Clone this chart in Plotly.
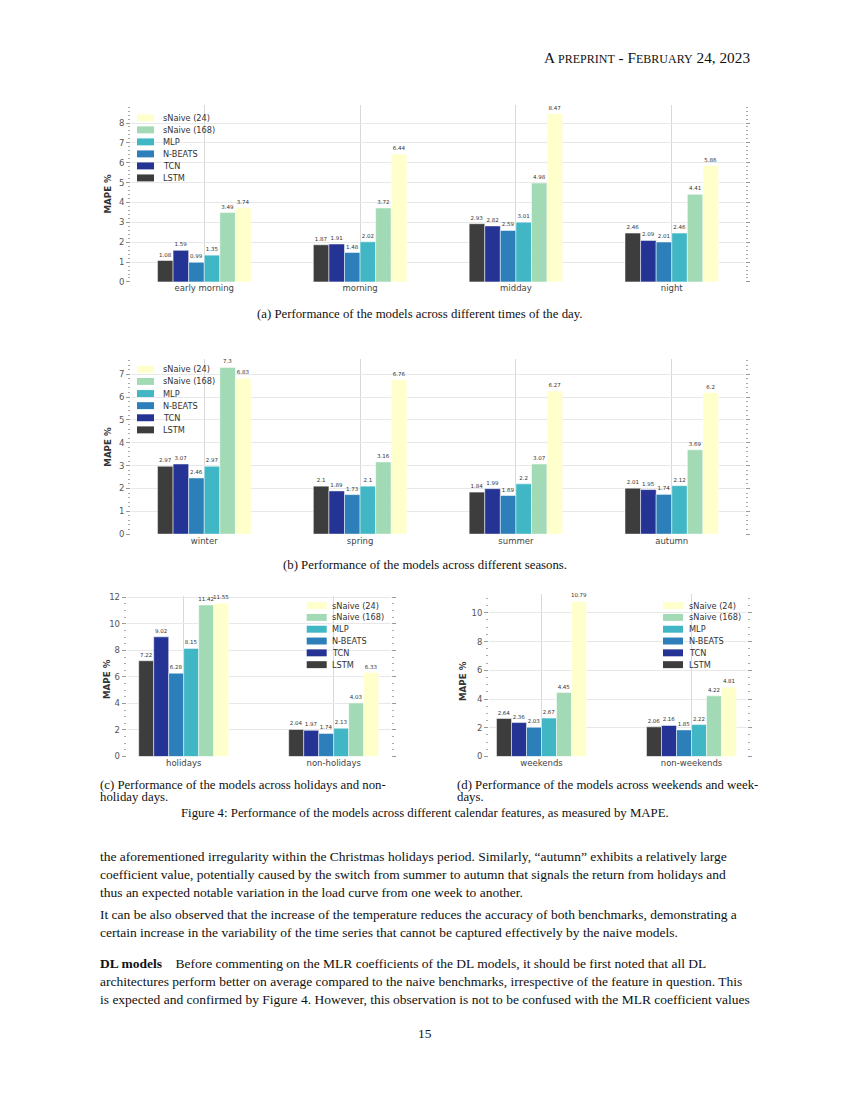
import plotly.graph_objects as go

W, H = 850, 1100

# ---------------- data ----------------
models = ["LSTM", "TCN", "N-BEATS", "MLP", "sNaive (168)", "sNaive (24)"]
colors = ["#3d3d3d", "#253494", "#2c7fb8", "#41b6c4", "#a1dab4", "#ffffcc"]

tod_cats = ["early morning", "morning", "midday", "night"]
tod_lstm = [1.08, 1.87, 2.93, 2.46]
tod_tcn = [1.59, 1.91, 2.82, 2.09]
tod_nbeats = [0.99, 1.48, 2.59, 2.01]
tod_mlp = [1.35, 2.02, 3.01, 2.46]
tod_sn168 = [3.49, 3.72, 4.98, 4.41]
tod_sn24 = [3.74, 6.44, 8.47, 5.86]

season_cats = ["winter", "spring", "summer", "autumn"]
season_lstm = [2.97, 2.1, 1.84, 2.01]
season_tcn = [3.07, 1.89, 1.99, 1.95]
season_nbeats = [2.46, 1.73, 1.69, 1.74]
season_mlp = [2.97, 2.1, 2.2, 2.12]
season_sn168 = [7.3, 3.16, 3.07, 3.69]
season_sn24 = [6.83, 6.76, 6.27, 6.2]

hol_cats = ["holidays", "non-holidays"]
hol_lstm = [7.22, 2.04]
hol_tcn = [9.02, 1.97]
hol_nbeats = [6.28, 1.74]
hol_mlp = [8.15, 2.13]
hol_sn168 = [11.42, 4.03]
hol_sn24 = [11.55, 6.33]

wk_cats = ["weekends", "non-weekends"]
wk_lstm = [2.64, 2.06]
wk_tcn = [2.36, 2.16]
wk_nbeats = [2.03, 1.85]
wk_mlp = [2.67, 2.22]
wk_sn168 = [4.45, 4.22]
wk_sn24 = [10.79, 4.81]

# ---------------- layout helpers ----------------
def px_x(v):
    return v / W


def px_y(v):
    return 1 - v / H


CHART_FONT = "DejaVu Sans"
TEXT_FONT = "Liberation Serif"

panels = [
    dict(cats=tod_cats, series=[tod_lstm, tod_tcn, tod_nbeats, tod_mlp, tod_sn168, tod_sn24],
         xpx=(131, 745), ypx=(103, 281), xr=(-0.47, 3.47), dtick=1, minor=0.2,
         leg=dict(sx=137, sw=17, tx=161, cy=115.7, step=12.1), ylab=(108, 192)),
    dict(cats=season_cats, series=[season_lstm, season_tcn, season_nbeats, season_mlp, season_sn168, season_sn24],
         xpx=(131, 745), ypx=(358.7, 535), xr=(-0.47, 3.47), dtick=1, minor=0.2,
         leg=dict(sx=137, sw=17, tx=161, cy=369, step=12.2), ylab=(108, 447)),
    dict(cats=hol_cats, series=[hol_lstm, hol_tcn, hol_nbeats, hol_mlp, hol_sn168, hol_sn24],
         xpx=(126.7, 390.7), ypx=(597, 759), xr=(-0.38, 1.38), dtick=2, minor=0.5,
         leg=dict(sx=306.7, sw=20, tx=330, cy=607, step=11.9), ylab=(107, 681)),
    dict(cats=wk_cats, series=[wk_lstm, wk_tcn, wk_nbeats, wk_mlp, wk_sn168, wk_sn24],
         xpx=(489, 747), ypx=(595, 759), xr=(-0.35, 1.37), dtick=2, minor=0.5,
         leg=dict(sx=663, sw=20, tx=687, cy=607, step=11.9), ylab=(463, 683)),
]

fig = go.Figure()
shapes = []
annotations = []
layout_axes = {}

for i, p in enumerate(panels):
    n = i + 1
    xa = "x" if n == 1 else f"x{n}"
    ya = "y" if n == 1 else f"y{n}"
    for name, vals, col in zip(models, p["series"], colors):
        fig.add_trace(go.Bar(
            x=p["cats"], y=vals, name=name, marker_color=col,
            marker_line=dict(color="white", width=0.5),
            texttemplate="%{y}", textposition="outside",
            textfont=dict(size=5.5, color="#333", family=CHART_FONT),
            constraintext="none", cliponaxis=False,
            xaxis=xa, yaxis=ya, showlegend=False,
        ))
    ymax = max(max(s) for s in p["series"]) * 1.05
    xkey = "xaxis" if n == 1 else f"xaxis{n}"
    ykey = "yaxis" if n == 1 else f"yaxis{n}"
    layout_axes[xkey] = dict(
        domain=[px_x(p["xpx"][0]), px_x(p["xpx"][1])], anchor=ya,
        type="category", range=list(p["xr"]), showgrid=True, gridcolor="#d9d9d9",
        gridwidth=1, ticks="", showline=False, zeroline=False,
        tickfont=dict(size=8.5, color="#444", family=CHART_FONT),
    )
    layout_axes[ykey] = dict(
        domain=[px_y(p["ypx"][1]), px_y(p["ypx"][0])], anchor=xa,
        range=[0, ymax], dtick=p["dtick"], tick0=0, showgrid=True,
        gridcolor="#e8e8e8", gridwidth=1, zeroline=False, showline=False,
        ticks="outside", ticklen=4, tickcolor="#999", mirror="ticks",
        minor=dict(ticks="outside", ticklen=2, tickcolor="#aaa", dtick=p["minor"],
                   tick0=0, showgrid=False),
        tickfont=dict(size=8.5, color="#555", family=CHART_FONT),
    )
    # top tick marks (overlay axis)
    tkey = f"xaxis{n + 4}"
    layout_axes[tkey] = dict(
        overlaying=xa, anchor=ya, side="top", type="linear",
        range=list(p["xr"]), dtick=1, tick0=0, showticklabels=False,
        ticks="outside", ticklen=4, tickcolor="#999", showgrid=False,
        zeroline=False, showline=False,
        minor=dict(ticks="outside", ticklen=2, tickcolor="#aaa", dtick=0.2, tick0=0,
                   showgrid=False),
    )
    # y title
    annotations.append(dict(
        x=px_x(p["ylab"][0]), y=px_y(p["ylab"][1]), xref="paper", yref="paper",
        text="<b>MAPE %</b>", textangle=-90, showarrow=False,
        font=dict(size=8.7, color="#333", family=CHART_FONT),
        xanchor="center", yanchor="middle",
    ))
    # legend (reversed order)
    lg = p["leg"]
    for k, (name, col) in enumerate(zip(models[::-1], colors[::-1])):
        cy = lg["cy"] + k * lg["step"]
        shapes.append(dict(
            type="rect", xref="paper", yref="paper",
            x0=px_x(lg["sx"]), x1=px_x(lg["sx"] + lg["sw"]),
            y0=px_y(cy + 3.5), y1=px_y(cy - 3.5),
            fillcolor=col, line=dict(width=0),
        ))
        annotations.append(dict(
            x=px_x(lg["tx"]), y=px_y(cy), xref="paper", yref="paper",
            text=name, showarrow=False, xanchor="left", yanchor="middle",
            font=dict(size=8.2, color="#333", family=CHART_FONT),
        ))

# ---------------- page text ----------------
def txt(x, y, s, size=13, anchor="left"):
    annotations.append(dict(
        x=px_x(x), y=px_y(y), xref="paper", yref="paper", text=s,
        showarrow=False, xanchor=anchor, yanchor="middle",
        font=dict(size=size, color="#111", family=TEXT_FONT),
    ))

CAP = 12.8
BODY = 13.5
txt(752, 55, "A<span style='font-size:12px'> PREPRINT</span> - F<span style='font-size:12px'>EBRUARY</span> 24, 2023",
    size=15.3, anchor="right")
txt(420, 313, "(a) Performance of the models across different times of the day.", size=CAP, anchor="center")
txt(425, 566, "(b) Performance of the models across different seasons.", size=CAP, anchor="center")
txt(98, 788, "(c) Performance of the models across holidays and non-", size=CAP)
txt(98, 800, "holiday days.", size=CAP)
txt(455, 788, "(d) Performance of the models across weekends and week-", size=CAP)
txt(455, 800, "days.", size=CAP)
txt(425, 816, "Figure 4: Performance of the models across different calendar features, as measured by MAPE.",
    size=CAP, anchor="center")

body = [
    (860, "the aforementioned irregularity within the Christmas holidays period. Similarly, \u201cautumn\u201d exhibits a relatively large"),
    (878, "coefficient value, potentially caused by the switch from summer to autumn that signals the return from holidays and"),
    (896, "thus an expected notable variation in the load curve from one week to another."),
    (918, "It can be also observed that the increase of the temperature reduces the accuracy of both benchmarks, demonstrating a"),
    (936, "certain increase in the variability of the time series that cannot be captured effectively by the naive models."),
    (968, "<b>DL models</b>\u2003Before commenting on the MLR coefficients of the DL models, it should be first noted that all DL"),
    (986, "architectures perform better on average compared to the naive benchmarks, irrespective of the feature in question. This"),
    (1004, "is expected and confirmed by Figure 4. However, this observation is not to be confused with the MLR coefficient values"),
]
for y, s in body:
    txt(98, y, s, size=BODY)
txt(425, 1038, "15", size=BODY, anchor="center")

fig.update_layout(
    width=W, height=H, margin=dict(l=0, r=0, t=0, b=0),
    paper_bgcolor="white", plot_bgcolor="white",
    barmode="group", bargap=0.4, bargroupgap=0,
    showlegend=False, shapes=shapes, annotations=annotations,
    font=dict(family=CHART_FONT),
    **layout_axes,
)

fig.write_html(
    "out.html",
    config={"displayModeBar": False},
    post_script="document.body.style.margin='0px';document.body.style.overflow='hidden';",
)
